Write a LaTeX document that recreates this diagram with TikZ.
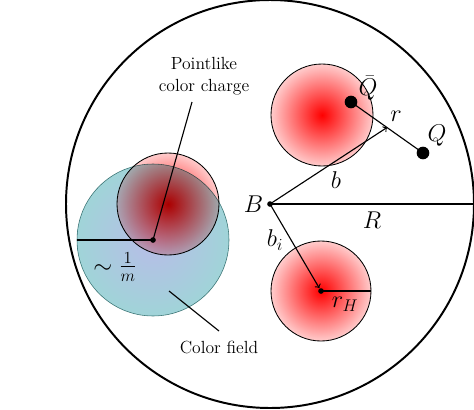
\documentclass[tikz,border=0pt]{standalone}
\usepackage{amsmath}
\usetikzlibrary{positioning,calc}

\definecolor{fieldin}{RGB}{184,188,232}
\definecolor{fieldout}{RGB}{160,212,216}
\tikzset{
  dot/.style={circle,fill=black,inner sep=0pt,minimum size=#1},
  dot/.default=4pt,
  hadron/.style={draw=black,line width=0.6pt,inner color=red,outer color=red!20},
  field/.style={blend mode=multiply,inner color=fieldin,outer color=fieldout,draw=teal!40!gray,line width=0.4pt},
  mathlbl/.style={font=\fontsize{17}{20}\selectfont,inner sep=1pt},
  txtlbl/.style={font=\fontsize{12.5}{15.5}\selectfont,align=center,inner sep=1pt},
}

\begin{document}
\begin{tikzpicture}[x=0.025cm,y=-0.025cm,line width=0.8pt]
  \useasboundingbox (0,0) rectangle (474,409);
  % nucleus of radius R
  \draw[line width=1.4pt] (270,204) circle[radius=204];

  % hadrons
  \shadedraw[hadron] (322,115) circle[radius=51];
  \shadedraw[hadron] (321,291) circle[radius=50];
  \shadedraw[hadron] (168,204) circle[radius=51];
  % color field around the charge
  \shadedraw[field] (153,240) circle[radius=76];

  % points
  \node[dot=4pt] (B) at (270,204) {};
  \node[dot=9pt] (Qb) at (351,102) {};
  \node[dot=9pt] (Q) at (423,153) {};
  \node[dot=4pt] (H) at (321,291) {};
  \node[dot=4pt] (C) at (153,240) {};
  \coordinate (mid) at ($(Qb)!0.5!(Q)$);
  \coordinate (Redge) at (474,204);
  \coordinate (Hedge) at (371,291);
  \coordinate (Cedge) at (77,240);

  % connectors
  \draw (Qb.center) -- (Q.center);
  \draw[->] (B.center) -- (mid);
  \draw (B.center) -- (Redge);
  \draw[->] (B.center) -- (H);
  \draw (H.center) -- (Hedge);
  \draw (C.center) -- (Cedge);

  % labels
  \node[mathlbl,left=1pt of B] (lB) {$B$};
  \node[mathlbl] (lQb) at (368,88) {$\bar{Q}$};
  \node[mathlbl] (lQ) at (437,136) {$Q$};
  \node[mathlbl] (lr) at (396,116) {$r$};
  \node[mathlbl] (lb) at (336,180) {$b$};
  \node[mathlbl] (lR) at (372,220) {$R$};
  \node[mathlbl] (lbi) at (275,240) {$b_i$};
  \node[mathlbl] (lrH) at (345,304) {$r_H$};
  \node[mathlbl] (lm) at (115,267) {$\sim\frac{1}{m}$};
  \node[txtlbl] (charge) at (204,76) {Pointlike\\color charge};
  \node[txtlbl] (fieldtxt) at (219,347) {Color field};
  \coordinate (chargetip) at (192,102);
  \coordinate (fieldtip) at (169,291);
  \coordinate (fieldend) at (219,331);
  \draw (chargetip) -- (C.center);
  \draw (fieldtip) -- (fieldend);
\end{tikzpicture}
\end{document}
